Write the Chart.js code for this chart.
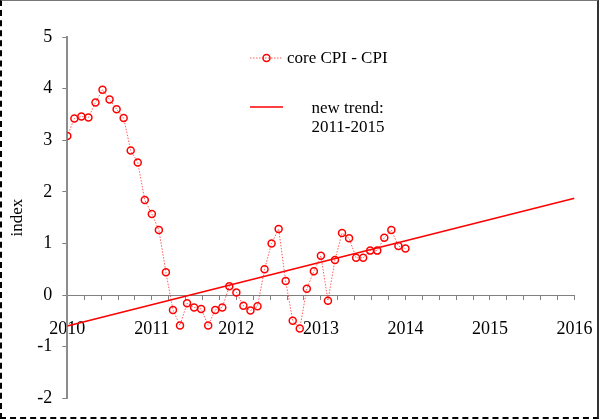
<!DOCTYPE html>
<html>
<head>
<meta charset="utf-8">
<script src="https://cdn.jsdelivr.net/npm/chart.js@4/dist/chart.umd.min.js"></script>
<style>
  body { margin: 0; background: #fff; }
  #wrap { position: relative; width: 602px; height: 419px; }
  #frame {
    position: absolute; left: 0; top: 0; width: 599px; height: 419px; box-sizing: border-box;
    border-top: 1px solid #777; border-right: 2px solid #333;
    border-left: 2px dashed #000; border-bottom: 2px dashed #000;
    pointer-events: none;
  }
</style>
</head>
<body>
<div id="wrap">
  <canvas id="cpiCanvas" width="602" height="419"></canvas>
  <div id="frame"></div>
</div>
<script>
// monthly observations, Jan 2010 .. Jan 2014
const months = [
  '2010-01','2010-02','2010-03','2010-04','2010-05','2010-06','2010-07','2010-08','2010-09','2010-10','2010-11','2010-12',
  '2011-01','2011-02','2011-03','2011-04','2011-05','2011-06','2011-07','2011-08','2011-09','2011-10','2011-11','2011-12',
  '2012-01','2012-02','2012-03','2012-04','2012-05','2012-06','2012-07','2012-08','2012-09','2012-10','2012-11','2012-12',
  '2013-01','2013-02','2013-03','2013-04','2013-05','2013-06','2013-07','2013-08','2013-09','2013-10','2013-11','2013-12',
  '2014-01'
]
const coreMinusCpi = [
  3.08, 3.42, 3.46, 3.44, 3.73, 3.98, 3.79, 3.60, 3.43, 2.80, 2.57, 1.84,
  1.57, 1.26, 0.44, -0.29, -0.59, -0.16, -0.24, -0.27, -0.59, -0.29, -0.24, 0.17,
  0.05, -0.21, -0.30, -0.22, 0.50, 1.00, 1.28, 0.27, -0.50, -0.65, 0.12, 0.46,
  0.76, -0.11, 0.68, 1.20, 1.10, 0.72, 0.72, 0.86, 0.86, 1.11, 1.26, 0.95,
  0.90
]
// trend line end points
const trendYears = [2010, 2016]
const trendValues = [-0.60, 1.875]

const seriesLabel = 'core CPI - CPI'
const trendLabel = ['new trend:', '2011-2015']

const toYear = s => {
  const [y, m] = s.split('-').map(Number)
  return y + (m - 1) / 12
}

Chart.defaults.font.family = '"Liberation Serif", serif'
Chart.defaults.color = '#000'

// hand placed legend like the original
const legendPlugin = {
  id: 'sideLegend',
  afterDraw(chart) {
    const ctx = chart.ctx
    const ds = chart.data.datasets
    ctx.save()
    ctx.font = '17px "Liberation Serif", serif'
    ctx.textBaseline = 'middle'
    ctx.fillStyle = '#000'

    // series entry
    ctx.strokeStyle = ds[0].borderColor
    ctx.lineWidth = 1
    ctx.setLineDash([1.5, 1.5])
    ctx.beginPath(); ctx.moveTo(250, 58); ctx.lineTo(283, 58); ctx.stroke()
    ctx.setLineDash([])
    ctx.strokeStyle = ds[0].pointBorderColor
    ctx.lineWidth = 1.5
    ctx.beginPath(); ctx.arc(266.5, 58, 3.5, 0, Math.PI * 2); ctx.stroke()
    ctx.fillText(ds[0].label, 287, 59)

    // trend entry
    ctx.strokeStyle = ds[1].borderColor
    ctx.lineWidth = 1.5
    ctx.beginPath(); ctx.moveTo(250, 107); ctx.lineTo(283, 107); ctx.stroke()
    ds[1].label.forEach((t, i) => ctx.fillText(t, 311.5, 109 + i * 18.5))
    ctx.restore()
  }
}

const ctx = document.getElementById('cpiCanvas')
const cpiChart = new Chart(ctx, {
  type: 'line',
  data: {
    datasets: [{
      label: seriesLabel,
      data: months.map((m, i) => ({ x: toYear(m), y: coreMinusCpi[i] })),
      borderColor: 'rgba(255,40,40,0.75)',
      borderWidth: 1,
      borderDash: [1.5, 1.5],
      pointRadius: 3.5,
      pointBorderWidth: 1.5,
      pointBorderColor: '#ff0000',
      pointBackgroundColor: 'rgba(0,0,0,0)',
      tension: 0
    }, {
      label: trendLabel,
      data: trendYears.map((x, i) => ({ x, y: trendValues[i] })),
      borderColor: '#ff0000',
      borderWidth: 1.6,
      pointRadius: 0,
      tension: 0
    }]
  },
  options: {
    responsive: false,
    animation: false,
    layout: { padding: { left: 0, top: 37, right: 27.5, bottom: 12 } },
    plugins: { legend: { display: false }, tooltip: { enabled: false } },
    scales: {
      x: {
        type: 'linear',
        position: { y: 0 },
        min: 2010,
        max: 2016,
        afterFit: s => { s.paddingLeft = 0; s.paddingRight = 0 },
        grid: { drawOnChartArea: false, tickLength: 4, tickColor: '#808080', tickWidth: 1 },
        border: { color: '#808080', width: 1 },
        ticks: {
          stepSize: 0.2,
          autoSkip: false,
          maxRotation: 0,
          padding: 19,
          font: { size: 18 },
          callback: v => Math.abs(v - Math.round(v)) < 1e-6 ? String(Math.round(v)) : ''
        }
      },
      y: {
        min: -2,
        max: 5,
        afterFit: s => { s.width = 67.3 },
        grid: { drawOnChartArea: false, tickLength: 5, tickColor: '#808080', tickWidth: 1 },
        border: { color: '#8c8c8c', width: 2 },
        ticks: { stepSize: 1, padding: 10, font: { size: 18 } },
        title: { display: true, text: 'index', font: { size: 17 }, padding: { top: 7, bottom: 0 } }
      }
    }
  },
  plugins: [legendPlugin]
})
</script>
</body>
</html>
